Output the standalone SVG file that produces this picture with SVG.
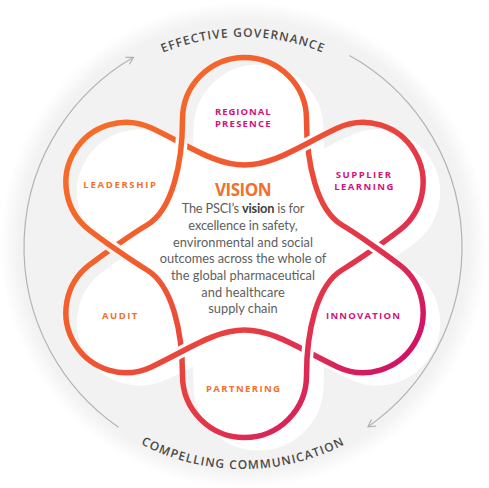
<svg xmlns="http://www.w3.org/2000/svg" width="489" height="488" viewBox="0 0 489 488">
<defs>
  <style>
    .ribbon { fill: none; stroke: url(#knotGrad); stroke-width: 5.5; stroke-linejoin: round; }
    .sil { fill: #ffffff; stroke: #ffffff; stroke-width: 6; }
    .ring { fill: none; stroke: #b3b3b3; stroke-width: 1.2; marker-end: url(#chev); }
    .outer { font-family: "Open Sans", "Liberation Sans", sans-serif; font-size: 12px; font-weight: 600; fill: #4a4a4a; letter-spacing: 1.1px; }
    .lbl { font-family: "Open Sans", "Liberation Sans", sans-serif; font-size: 9.5px; font-weight: 700; text-anchor: middle; }
    .mag { fill: #d0137a; }
    .org { fill: #f36f2d; }
    .body { font-family: Lato, "Open Sans", sans-serif; font-size: 12.8px; fill: #5e5e5e; text-anchor: middle; }
    .bold { font-weight: 700; fill: #404040; }
  </style>
  <radialGradient id="bg" gradientUnits="userSpaceOnUse" cx="244" cy="245" r="244">
    <stop offset="0" stop-color="#f1f1f1"/>
    <stop offset="0.92" stop-color="#f2f2f2"/>
    <stop offset="1" stop-color="#ffffff"/>
  </radialGradient>
  <linearGradient id="knotGrad" gradientUnits="userSpaceOnUse" x1="120" y1="120" x2="420" y2="380">
    <stop offset="0" stop-color="#f56b28"/>
    <stop offset="0.3" stop-color="#f15a2f"/>
    <stop offset="0.55" stop-color="#e8413f"/>
    <stop offset="0.75" stop-color="#de2d52"/>
    <stop offset="1" stop-color="#cc0a6e"/>
  </linearGradient>
  <marker id="chev" viewBox="0 0 10 10" refX="9" refY="5" markerWidth="10" markerHeight="10" markerUnits="userSpaceOnUse" orient="auto">
    <path d="M2,1 L9,5 L2,9" fill="none" stroke="#b3b3b3" stroke-width="1.2"/>
  </marker>
  <path id="curveA" d="M182.5,119.5 A62,62 0 0 1 306.5,119.5 C306.5,162 316.3,209.6 342,225 C357.4,234.25 385.7,254.1 399.9,265.2 A60,60 0 0 1 337.6,366.9 C301.4,350 274.5,330 244.5,330 C214.5,330 187.6,350 151.4,366.9 A60,60 0 0 1 89.1,265.2 C103.3,254.1 131.6,234.25 147,225 C172.7,209.6 182.5,162 182.5,119.5 Z"/>
  <path id="curveB" d="M306.5,375.5 A62,62 0 0 1 182.5,375.5 C182.5,333 172.7,285.4 147,270 C131.6,260.75 103.3,240.9 89.1,229.8 A60,60 0 0 1 151.4,128.1 C187.6,145 214.5,165 244.5,165 C274.5,165 301.4,145 337.6,128.1 A60,60 0 0 1 399.9,229.8 C385.7,240.9 357.4,260.75 342,270 C316.3,285.4 306.5,333 306.5,375.5 Z"/>
  <path id="arcTop" d="M61.1,142 A210,210 0 0 1 424.9,142"/>
  <path id="arcBottom" d="M50.7,358 A222,222 0 0 0 435.3,358"/>
  <clipPath id="overA">
    <circle cx="182.3" cy="143.5" r="10"/>
    <circle cx="375.9" cy="247.5" r="10"/>
    <circle cx="182.3" cy="351.5" r="10"/>
  </clipPath>
  <clipPath id="overB">
    <circle cx="306.7" cy="143.5" r="10"/>
    <circle cx="306.7" cy="351.5" r="10"/>
    <circle cx="113.1" cy="247.5" r="10"/>
  </clipPath>
  <mask id="maskA" maskUnits="userSpaceOnUse" x="0" y="0" width="489" height="488">
    <rect x="0" y="0" width="489" height="488" fill="#ffffff"/>
    <use href="#curveB" fill="none" stroke="#000000" stroke-width="12" clip-path="url(#overB)"/>
  </mask>
  <mask id="maskB" maskUnits="userSpaceOnUse" x="0" y="0" width="489" height="488">
    <rect x="0" y="0" width="489" height="488" fill="#ffffff"/>
    <use href="#curveA" fill="none" stroke="#000000" stroke-width="12" clip-path="url(#overA)"/>
  </mask>
</defs>

<rect x="0" y="0" width="489" height="488" fill="#ffffff"/>
<circle cx="244" cy="245" r="244" fill="url(#bg)"/>

<g id="connectors">
  <path class="ring" d="M118.6,427.2 A219,219 0 0 1 133.5,57.3"/>
  <path class="ring" d="M349.5,55.6 A219,219 0 0 1 368,426.8"/>
</g>

<g id="outer-labels">
  <text class="outer"><textPath href="#arcTop" startOffset="50%" text-anchor="middle">EFFECTIVE GOVERNANCE</textPath></text>
  <text class="outer"><textPath href="#arcBottom" startOffset="50%" text-anchor="middle">COMPELLING COMMUNICATION</textPath></text>
</g>

<g id="knot">
  <g transform="translate(14,10)">
    <use href="#curveA" class="sil"/>
    <use href="#curveB" class="sil"/>
  </g>
  <use href="#curveB" class="ribbon" mask="url(#maskB)"/>
  <use href="#curveA" class="ribbon" mask="url(#maskA)"/>
</g>

<g id="node-regional-presence">
  <text class="lbl mag" x="242.8" y="115.3" textLength="55.7" lengthAdjust="spacing">REGIONAL</text>
  <text class="lbl mag" x="242.8" y="127.3" textLength="55.7" lengthAdjust="spacing">PRESENCE</text>
</g>
<g id="node-supplier-learning">
  <text class="lbl mag" x="363.3" y="178" textLength="55.3" lengthAdjust="spacing">SUPPLIER</text>
  <text class="lbl mag" x="363.8" y="190.3" textLength="59" lengthAdjust="spacing">LEARNING</text>
</g>
<g id="node-innovation">
  <text class="lbl mag" x="363" y="319.3" textLength="74" lengthAdjust="spacing">INNOVATION</text>
</g>
<g id="node-partnering">
  <text class="lbl org" x="243" y="392" textLength="74" lengthAdjust="spacing">PARTNERING</text>
</g>
<g id="node-audit">
  <text class="lbl org" x="119.7" y="319.3" textLength="35.3" lengthAdjust="spacing">AUDIT</text>
</g>
<g id="node-leadership">
  <text class="lbl org" x="119.7" y="188.3" textLength="72.7" lengthAdjust="spacing">LEADERSHIP</text>
</g>

<g id="node-vision">
  <text class="lbl org" x="243.3" y="196.3" style="font-size:17px" textLength="56.7" lengthAdjust="spacing">VISION</text>
  <text class="body" x="243" y="213" textLength="122.7" lengthAdjust="spacing">The PSCI’s <tspan class="bold">vision</tspan> is for</text>
  <text class="body" x="243" y="229.8" textLength="109.3" lengthAdjust="spacing">excellence in safety,</text>
  <text class="body" x="243" y="246.5" textLength="140" lengthAdjust="spacing">environmental and social</text>
  <text class="body" x="243" y="263.2" textLength="166.7" lengthAdjust="spacing">outcomes across the whole of</text>
  <text class="body" x="243" y="279.9" textLength="144" lengthAdjust="spacing">the global pharmaceutical</text>
  <text class="body" x="243" y="296.6" textLength="83.3" lengthAdjust="spacing">and healthcare</text>
  <text class="body" x="243" y="313.3" textLength="69.3" lengthAdjust="spacing">supply chain</text>
</g>
</svg>
